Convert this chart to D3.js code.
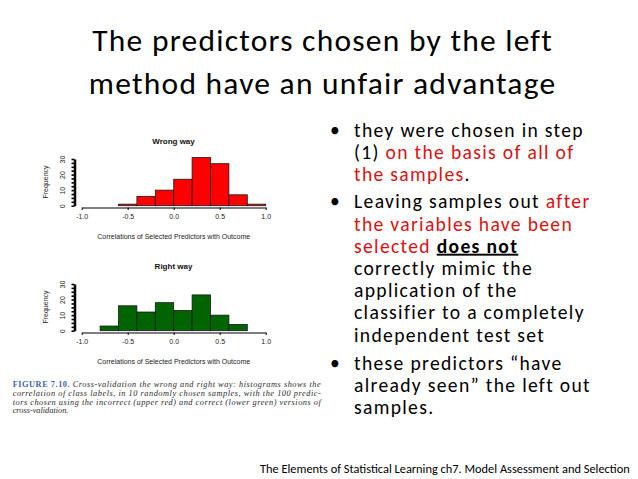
<!DOCTYPE html>
<html>
<head>
<meta charset="utf-8">
<script src="https://cdn.jsdelivr.net/npm/d3@7.9.0/dist/d3.min.js"></script>
<style>
  html, body { margin: 0; padding: 0; background: #fff; }
  svg { display: block; }
</style>
</head>
<body>
<svg id="slide" width="638" height="479"></svg>
<script>
// histogram data, bin starts (width 0.2) and counts
const binWidth = 0.2;
const wrongBins = [-0.6, -0.4, -0.2, 0.0, 0.2, 0.4, 0.6, 0.8];
const wrongCounts = [1, 6, 10, 17, 31, 27, 7, 1];
const rightBins = [-0.8, -0.6, -0.4, -0.2, 0.0, 0.2, 0.4, 0.6];
const rightCounts = [3, 16, 12, 18, 13, 23, 10, 4];
const xTicks = [-1.0, -0.5, 0.0, 0.5, 1.0];
const yTicks = [0, 10, 20, 30];
const xLabel = 'Correlations of Selected Predictors with Outcome';

const titleLines = ['The predictors chosen by the left', 'method have an unfair advantage'];

// bullet text, segments: k = black, r = red, b = bold underlined
const bullets = [
  [
    [['they were chosen in step', 'k']],
    [['(1) ', 'k'], ['on the basis of all of', 'r']],
    [['the samples', 'r'], ['.', 'k']]
  ],
  [
    [['Leaving samples out ', 'k'], ['after', 'r']],
    [['the variables have been', 'r']],
    [['selected ', 'r'], ['does not', 'b']],
    [['correctly mimic the', 'k']],
    [['application of the', 'k']],
    [['classifier to a completely', 'k']],
    [['independent test set', 'k']]
  ],
  [
    [['these predictors \u201chave', 'k']],
    [['already seen\u201d the left out', 'k']],
    [['samples.', 'k']]
  ]
];

const captionHead = 'FIGURE 7.10.';
const captionLines = [
  ' Cross-validation the wrong and right way: histograms shows the',
  'correlation of class labels, in 10 randomly chosen samples, with the 100 predic-',
  'tors chosen using the incorrect (upper red) and correct (lower green) versions of',
  'cross-validation.'
];
const footer = 'The Elements of Statistical Learning ch7. Model Assessment and Selection';

const svg = d3.select('#slide');
const slideFont = 'Carlito, Calibri, Lato, sans-serif';
const rFont = '"Liberation Sans", Arial, sans-serif';

// letter spacing that stretches a text at this size to the target width
function fitSpacing(text, size, target) {
  const t = svg.append('text')
    .attr('font-family', slideFont)
    .attr('font-size', size)
    .text(text);
  const w = t.node().getComputedTextLength();
  t.remove();
  return (target - w) / text.length;
}

function fitSize(text, target) {
  const t = svg.append('text')
    .attr('font-family', slideFont)
    .attr('font-size', 20)
    .text(text);
  const w = t.node().getComputedTextLength();
  t.remove();
  return 20 * target / w;
}

// title
const titleSize = 31.5;
const titleLs = fitSpacing(titleLines[0], titleSize, 460);
titleLines.forEach((line, i) => {
  svg.append('text')
    .attr('x', 322 + titleLs / 2)
    .attr('y', 51 + i * 43)
    .attr('text-anchor', 'middle')
    .attr('font-family', slideFont)
    .attr('font-size', titleSize)
    .attr('letter-spacing', titleLs)
    .attr('fill', '#000')
    .text(line);
});

// bullets
const bulletSize = 19.6;
const bulletLs = fitSpacing('they were chosen in step', bulletSize, 230);
const bulletStarts = [136.7, 208.3, 370];
const lineH = 22.2;
const colors = { k: '#000', r: '#dd1111', b: '#000' };

bullets.forEach((lines, bi) => {
  svg.append('text')
    .attr('x', 335)
    .attr('y', bulletStarts[bi])
    .attr('text-anchor', 'middle')
    .attr('font-family', slideFont)
    .attr('font-size', bulletSize)
    .text('\u2022');
  lines.forEach((segs, li) => {
    const t = svg.append('text')
      .attr('x', 354)
      .attr('y', bulletStarts[bi] + li * lineH)
      .attr('font-family', slideFont)
      .attr('font-size', bulletSize)
      .attr('letter-spacing', bulletLs)
      .style('white-space', 'pre');
    segs.forEach(([s, c]) => {
      const ts = t.append('tspan').attr('fill', colors[c]).text(s);
      if (c === 'b') {
        ts.attr('font-weight', 'bold').attr('text-decoration', 'underline');
      }
    });
  });
});

// histograms
const x = d3.scaleLinear().domain([-1, 1]).range([81.7, 265.7]);

function drawHist(dy, bins, counts, fill, title) {
  const g = svg.append('g').attr('transform', `translate(0,${dy})`);
  const y = d3.scaleLinear().domain([0, 30]).range([205.7, 159]);

  g.selectAll('rect.bar')
    .data(bins)
    .join('rect')
    .attr('class', 'bar')
    .attr('x', (d) => x(d))
    .attr('width', (d) => x(d + binWidth) - x(d))
    .attr('y', (d, i) => y(counts[i]))
    .attr('height', (d, i) => y(0) - y(counts[i]))
    .attr('fill', fill)
    .attr('stroke', '#1a1a1a')
    .attr('stroke-width', 0.8);

  // x axis
  const xa = g.append('g')
    .attr('transform', 'translate(0,207.5)')
    .call(d3.axisBottom(x).tickValues(xTicks).tickSize(2.5).tickSizeOuter(0)
      .tickFormat((d) => d.toFixed(1)));
  xa.select('.domain').attr('stroke', '#000').attr('stroke-width', 1.2);
  xa.selectAll('.tick line').attr('stroke', '#000');
  xa.selectAll('.tick text')
    .attr('font-family', rFont)
    .attr('font-size', 7)
    .attr('fill', '#222')
    .attr('dy', '0.95em')
    .attr('y', 5);

  // y axis: dense ticks make the thick comb
  const ya = g.append('g')
    .attr('transform', 'translate(74.5,0)')
    .call(d3.axisLeft(y).tickValues(d3.range(0, 30.1, 2.5)).tickSize(3).tickSizeOuter(0)
      .tickFormat((d) => (yTicks.includes(d) ? d : '')));
  ya.select('.domain').attr('stroke', '#000').attr('stroke-width', 2.5);
  ya.selectAll('.tick line').attr('stroke', '#000').attr('stroke-width', 1.6);
  ya.selectAll('.tick text')
    .attr('font-family', rFont)
    .attr('font-size', 7)
    .attr('fill', '#222')
    .attr('x', 0)
    .attr('y', 0)
    .attr('dy', 0)
    .attr('text-anchor', 'middle')
    .attr('transform', 'translate(-10,0) rotate(-90)');

  g.append('text')
    .attr('transform', 'translate(47.5,182) rotate(-90)')
    .attr('text-anchor', 'middle')
    .attr('font-family', rFont)
    .attr('font-size', 7)
    .attr('fill', '#222')
    .text('Frequency');

  g.append('text')
    .attr('x', 173.5)
    .attr('y', 144)
    .attr('text-anchor', 'middle')
    .attr('font-family', rFont)
    .attr('font-size', 8)
    .attr('font-weight', 'bold')
    .attr('fill', '#111')
    .text(title);

  g.append('text')
    .attr('x', 173.7)
    .attr('y', 239)
    .attr('text-anchor', 'middle')
    .attr('font-family', rFont)
    .attr('font-size', 7)
    .attr('fill', '#222')
    .text(xLabel);
}

drawHist(0, wrongBins, wrongCounts, '#ff0000', 'Wrong way');
drawHist(125, rightBins, rightCounts, '#006400', 'Right way');

// caption
const capFont = '"Liberation Serif", "DejaVu Serif", serif';
captionLines.forEach((line, i) => {
  const t = svg.append('text')
    .attr('x', 12.7)
    .attr('y', 387.3 + i * 8.7)
    .attr('font-family', capFont)
    .attr('font-size', 8.3)
    .attr('fill', '#2a2a2a')
    .style('white-space', 'pre');
  if (i === 0) {
    t.append('tspan')
      .attr('font-weight', 'bold')
      .attr('font-style', 'normal')
      .attr('fill', '#3d64a8')
      .attr('font-variant', 'small-caps')
      .text(captionHead);
  }
  t.append('tspan').attr('font-style', 'italic').text(line);
  if (i < captionLines.length - 1) {
    t.attr('textLength', 308).attr('lengthAdjust', 'spacing');
  }
});

// footer
const footSize = fitSize(footer, 370);
svg.append('text')
  .attr('x', 260)
  .attr('y', 472.5)
  .attr('font-family', slideFont)
  .attr('font-size', footSize)
  .attr('fill', '#000')
  .text(footer);
</script>
</body>
</html>
